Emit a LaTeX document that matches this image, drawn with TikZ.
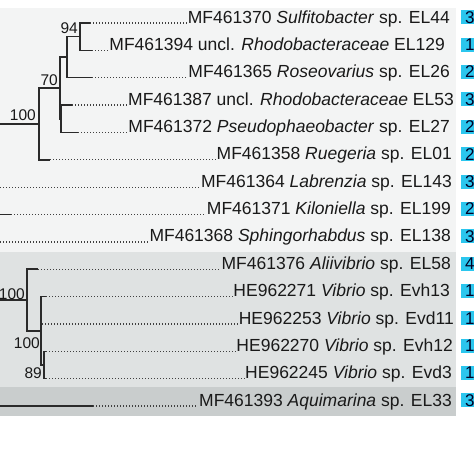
\documentclass[tikz,border=0pt]{standalone}
\usepackage{fontspec}
\setmainfont{Liberation Sans}
\usetikzlibrary{positioning,calc}
\definecolor{bandlight}{HTML}{F3F4F4}
\definecolor{bandvib}{HTML}{DFE2E2}
\definecolor{bandaqu}{HTML}{C9CDCD}
\definecolor{boxcyan}{HTML}{2BC6EE}
\definecolor{treeline}{HTML}{2A2A2A}

\begin{document}
\begin{tikzpicture}[x=1pt, y=-1pt,
    taxon/.style={anchor=base east, inner sep=0pt, font=\fontsize{17.5}{20}\selectfont, text=black!90},
    boot/.style={anchor=base east, inner sep=0pt, font=\fontsize{15.5}{18}\selectfont, text=black!90},
    branch/.style={draw=treeline, line width=1.5pt},
    leader/.style={draw=black!75, line width=1.3pt, dash pattern=on 1.2pt off 1.8pt},
    countbox/.style={fill=boxcyan, anchor=south west, minimum height=14pt, text width=14pt, inner xsep=4pt, inner ysep=0pt, align=left, font=\fontsize{17}{18}\selectfont, text=black!85!blue}
  ]
    \useasboundingbox (0,0) rectangle (474,474);
    \clip (0,0) rectangle (474,474);

    % shaded bands
    \fill[bandlight] (0,8) rectangle (456,252);
    \fill[bandvib] (0,252) rectangle (456,387);
    \fill[bandaqu] (0,387) rectangle (456,416);

    % taxa, leaders and counts
    \foreach \i/\tip/\yy/\xend/\lab/\cnt in {
      1/90/23.0/450/{MF461370 \textit{Sulfitobacter} sp. EL44}/3,
      2/92/50.4/445/{MF461394 uncl. \textit{Rhodobacteraceae} EL129}/1,
      3/92/77.7/450/{MF461365 \textit{Roseovarius} sp. EL26}/2,
      4/72/105.1/454/{MF461387 uncl. \textit{Rhodobacteraceae} EL53}/3,
      5/78/132.4/450/{MF461372 \textit{Pseudophaeobacter} sp. EL27}/2,
      6/50/159.8/452/{MF461358 \textit{Ruegeria} sp. EL01}/2,
      7/0/187.2/452/{MF461364 \textit{Labrenzia} sp. EL143}/3,
      8/11/214.5/451/{MF461371 \textit{Kiloniella} sp. EL199}/2,
      9/0/241.9/451/{MF461368 \textit{Sphingorhabdus} sp. EL138}/3,
      10/38/269.2/451/{MF461376 \textit{Aliivibrio} sp. EL58}/4,
      11/46/296.6/450/{HE962271 \textit{Vibrio} sp. Evh13}/1,
      12/42/324.0/454/{HE962253 \textit{Vibrio} sp. Evd11}/1,
      13/46/351.3/453/{HE962270 \textit{Vibrio} sp. Evh12}/1,
      14/46/378.7/452/{HE962245 \textit{Vibrio} sp. Evd3}/1,
      15/93/406.0/452/{MF461393 \textit{Aquimarina} sp. EL33}/3}{
      \node[taxon] (t\i) at (\xend,\yy) {\lab};
      \coordinate (p\i) at (\tip,\yy);
      \draw[leader] (p\i) -- ([xshift=-1pt]t\i.base west);
      \node[countbox] (c\i) at (461,\yy+1.5) {\cnt};
    }

    % upper clade
    \coordinate (n94) at (80,36.7);
    \coordinate (nA) at (67,57.2);
    \coordinate (nB) at (61,118.8);
    \coordinate (n70) at (60,88);
    \coordinate (n100) at (39,123.9);
    \coordinate (root) at (0,123.9);
    \draw[branch] (n94) |- (p1);
    \draw[branch] (n94) |- (p2);
    \draw[branch] (nA) |- (n94);
    \draw[branch] (nA) |- (p3);
    \draw[branch] (nB) |- (p4);
    \draw[branch] (nB) |- (p5);
    \draw[branch] (n70) |- (nA);
    \draw[branch] (n70) |- (nB);
    \draw[branch] (n100) |- (n70);
    \draw[branch] (n100) |- (p6);
    \draw[branch] (root) -- (n100);

    % single lineages
    \coordinate (r8) at (0,214.5);
    \coordinate (r15) at (0,406.0);
    \draw[branch] (r8) -- (p8);
    \draw[branch] (r15) -- (p15);

    % vibrio clade
    \coordinate (v1) at (27,300);
    \coordinate (v2) at (41,330.8);
    \coordinate (n89) at (44,365);
    \coordinate (vroot) at (0,300);
    \draw[branch] (v1) |- (p10);
    \draw[branch] (v1) |- (v2);
    \draw[branch] (v2) |- (p11);
    \draw[branch] (v2) |- (p12);
    \draw[branch] (v2) |- (n89);
    \draw[branch] (n89) |- (p13);
    \draw[branch] (n89) |- (p14);
    \draw[branch] (vroot) -- (v1);

    % bootstrap values
    \node[boot] (b94) at (78,33) {94};
    \node[boot] (b70) at (58,85) {70};
    \node[boot] (b100) at (36,120) {100};
    \node[boot] (bv1) at (25,299) {100};
    \node[boot] (bv2) at (40,348) {100};
    \node[boot] (b89) at (42,378) {89};
  \end{tikzpicture}
\end{document}
